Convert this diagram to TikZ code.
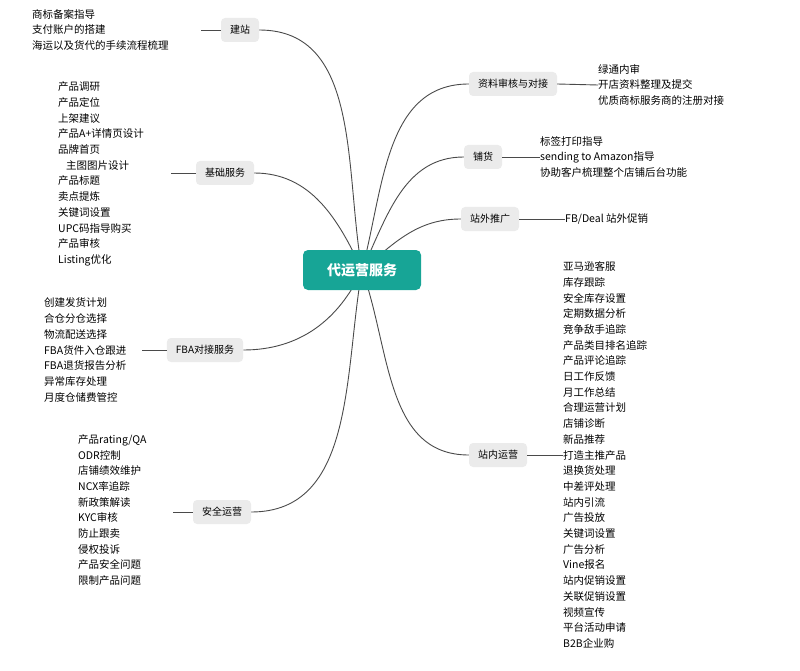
\documentclass[tikz,border=0pt]{standalone}
\usepackage{fontspec}
\setmainfont{Noto Sans CJK SC}
\usetikzlibrary{backgrounds}
\definecolor{hubteal}{HTML}{17A596}
\definecolor{linegray}{HTML}{4A4A4A}
\tikzset{
hub/.style={rectangle,rounded corners=5pt,fill=hubteal,text=white,
minimum width=118pt,minimum height=40pt,font=\fontsize{14}{16}\selectfont\bfseries},
branch/.style={rectangle,rounded corners=4pt,fill=black!8,
minimum height=24pt,inner xsep=9pt,font=\fontsize{10}{12}\selectfont},
items/.style={align=left,inner sep=0pt,font=\fontsize{10.5}{15.7}\selectfont},
link/.style={draw=linegray,line width=0.9pt}
}
\begin{document}
\begin{tikzpicture}[x=1pt,y=-1pt]
\useasboundingbox (0,0) rectangle (800,671);

% centre and branches
\node[hub] (svc) at (362,270) {代运营服务};
\node[branch] (site) at (240,30) {建站};
\node[branch] (basic) at (225,173) {基础服务};
\node[branch] (fba) at (205,350) {FBA对接服务};
\node[branch] (safe) at (222,512) {安全运营};
\node[branch] (docs) at (513,84) {资料审核与对接};
\node[branch] (list) at (483,157) {铺货};
\node[branch] (promo) at (490,219) {站外推广};
\node[branch] (onsite) at (498,455) {站内运营};

% item lists
\node[items,anchor=west] (siteL) at (32,30) {商标备案指导\\支付账户的搭建\\海运以及货代的手续流程梳理};
\node[items,anchor=west] (basicL) at (58,174) {产品调研\\产品定位\\上架建议\\产品A+详情页设计\\品牌首页\\\hspace*{8pt}主图图片设计\\产品标题\\卖点提炼\\关键词设置\\UPC码指导购买\\产品审核\\Listing优化};
\node[items,anchor=west] (fbaL) at (44,350) {创建发货计划\\合仓分仓选择\\物流配送选择\\FBA货件入仓跟进\\FBA退货报告分析\\异常库存处理\\月度仓储费管控};
\node[items,anchor=west] (safeL) at (78,510) {产品rating/QA\\ODR控制\\店铺绩效维护\\NCX率追踪\\新政策解读\\KYC审核\\防止跟卖\\侵权投诉\\产品安全问题\\限制产品问题};
\node[items,anchor=west] (docsL) at (598,85) {绿通内审\\开店资料整理及提交\\优质商标服务商的注册对接};
\node[items,anchor=west] (listL) at (540,157) {标签打印指导\\sending to Amazon指导\\协助客户梳理整个店铺后台功能};
\node[items,anchor=west] (promoL) at (565,219) {FB/Deal 站外促销};
\node[items,anchor=west] (onsiteL) at (563,455) {亚马逊客服\\库存跟踪\\安全库存设置\\定期数据分析\\竞争敌手追踪\\产品类目排名追踪\\产品评论追踪\\日工作反馈\\月工作总结\\合理运营计划\\店铺诊断\\新品推荐\\打造主推产品\\退换货处理\\中差评处理\\站内引流\\广告投放\\关键词设置\\广告分析\\Vine报名\\站内促销设置\\关联促销设置\\视频宣传\\平台活动申请\\B2B企业购};

\begin{scope}[on background layer]
\draw[link] (svc.center) to[out=100,in=0] (site.east);
\draw[link] (svc.center) to[out=115,in=0] (basic.east);
\draw[link] (svc.center) to[out=245,in=0] (fba.east);
\draw[link] (svc.center) to[out=260,in=0] (safe.east);
\draw[link] (svc.center) to[out=75,in=180] (docs.west);
\draw[link] (svc.center) to[out=65,in=180] (list.west);
\draw[link] (svc.center) to[out=40,in=180] (promo.west);
\draw[link] (svc.center) to[out=290,in=180] (onsite.west);
\end{scope}

\draw[link] (site.west) -- ++(-20,0);
\draw[link] (basic.west) -- ++(-25,0);
\draw[link] (fba.west) -- ++(-25,0);
\draw[link] (safe.west) -- ++(-20,0);
\draw[link] (docs.east) -- (docsL.west);
\draw[link] (list.east) -- (listL.west);
\draw[link] (promo.east) -- (promoL.west);
\draw[link] (onsite.east) -- (onsiteL.west);
\end{tikzpicture}
\end{document}
